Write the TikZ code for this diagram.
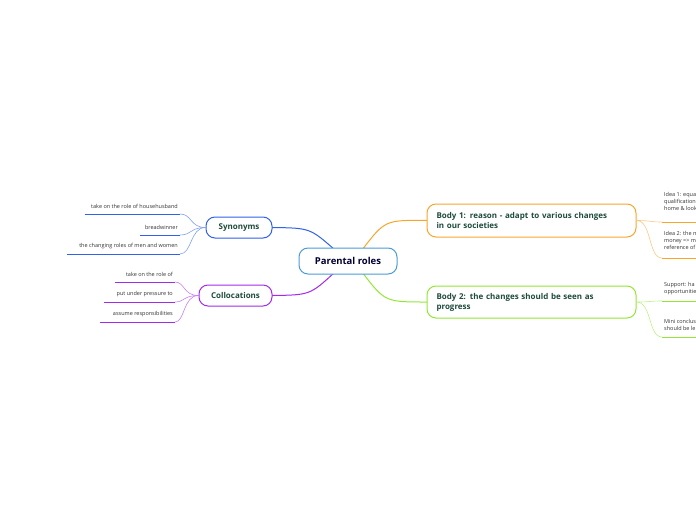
\documentclass[tikz,border=0pt]{standalone}
\usepackage{fontspec}
\setmainfont{Open Sans}
\definecolor{cor}{HTML}{F9A52C}
\definecolor{cgr}{HTML}{93E637}
\definecolor{cbl}{HTML}{2F62E6}
\definecolor{cpu}{HTML}{A22BEA}
\definecolor{cce}{HTML}{4B9BD6}
\definecolor{ctx}{HTML}{1E4B3C}
\begin{document}
\begin{tikzpicture}[x=1pt,y=-1pt,
 box/.style={draw,line width=1pt,rounded corners=9pt,fill=white,font=\bfseries\fontsize{8}{10}\selectfont,text=ctx,inner sep=0pt},
 leaf/.style={font=\fontsize{5.5}{7}\selectfont,text=black!80,align=left,inner sep=0pt},
 link/.style={line width=1pt}]
\useasboundingbox (0,0) rectangle (696,520);
\begin{scope}
\clip (0,0) rectangle (696,520);
\draw[link,cbl] (335,250) .. controls (310,228) .. (272,227.5);
\draw[link,cpu] (335,272) .. controls (310,295) .. (272,295.5);
\draw[link,cor] (362,250) .. controls (385,220) .. (427,220.5);
\draw[link,cgr] (362,272) .. controls (385,302) .. (427,302);
\node[box,draw=cce,minimum width=98pt,minimum height=26pt,text=black!80!blue,font=\bfseries\fontsize{9.5}{11}\selectfont] (c) at (348,261) {Parental roles};
\node[box,draw=cbl,minimum width=66pt,minimum height=21pt] (syn) at (239,227.5) {Synonyms};
\node[box,draw=cpu,minimum width=73pt,minimum height=21pt] (col) at (235.5,295.5) {Collocations};
\node[box,draw=cor,minimum width=209pt,minimum height=33pt,align=left,text width=190pt] (b1) at (531.5,220.5) {Body 1: reason - adapt to various changes\\in our societies};
\node[box,draw=cgr,minimum width=209pt,minimum height=32pt,align=left,text width=190pt] (b2) at (531.5,302) {Body 2: the changes should be seen as\\progress};
% left leaves
\foreach \n/\t/\y/\xa/\xb/\cc/\src/\sx/\sy in {
 s1/take on the role of househusband/206/85/180/cbl/syn/206/227.5,
 s2/breadwinner/227/140/180/cbl/syn/206/227.5,
 s3/the changing roles of men and women/246/67/180/cbl/syn/206/227.5,
 p1/take on the role of/274/115/175/cpu/col/199/295.5,
 p2/put under pressure to/294/104/175/cpu/col/199/295.5,
 p3/assume responsibilities/314/100/175/cpu/col/199/295.5}{
  \node[leaf,anchor=east] (\n) at (\xb-2,\y) {\t};
  \coordinate (\n a) at (\xa,\y+8);
  \coordinate (\n b) at (\xb,\y+8);
  \draw[link,\cc] (\n a) -- (\n b);
  \draw[\cc!60,line width=0.6pt] (\n b) .. controls (\sx-14,\y+8) and (\sx-16,\sy) .. (\src.west);
}
% right leaves
\foreach \n/\t/\y/\yl/\cc/\src/\sy in {
 r1/{Idea 1: equal\\qualifications\\home \& looking}/202/222/cor/b1/220.5,
 r2/{Idea 2: the m\\money => ma\\reference of}/240/258/cor/b1/220.5,
 r3/{Support: ha\\opportunities}/288.5/301/cgr/b2/302,
 r4/{Mini conclus\\should be le}/324.5/337/cgr/b2/302}{
  \node[leaf,anchor=west] (\n) at (664,\y) {\t};
  \coordinate (\n a) at (662,\yl);
  \coordinate (\n b) at (700,\yl);
  \draw[link,\cc] (\n a) -- (\n b);
  \draw[\cc!60,line width=0.6pt] (\src.east) .. controls (652,\sy) and (648,\yl) .. (\n a);
}
\end{scope}
\end{tikzpicture}
\end{document}
